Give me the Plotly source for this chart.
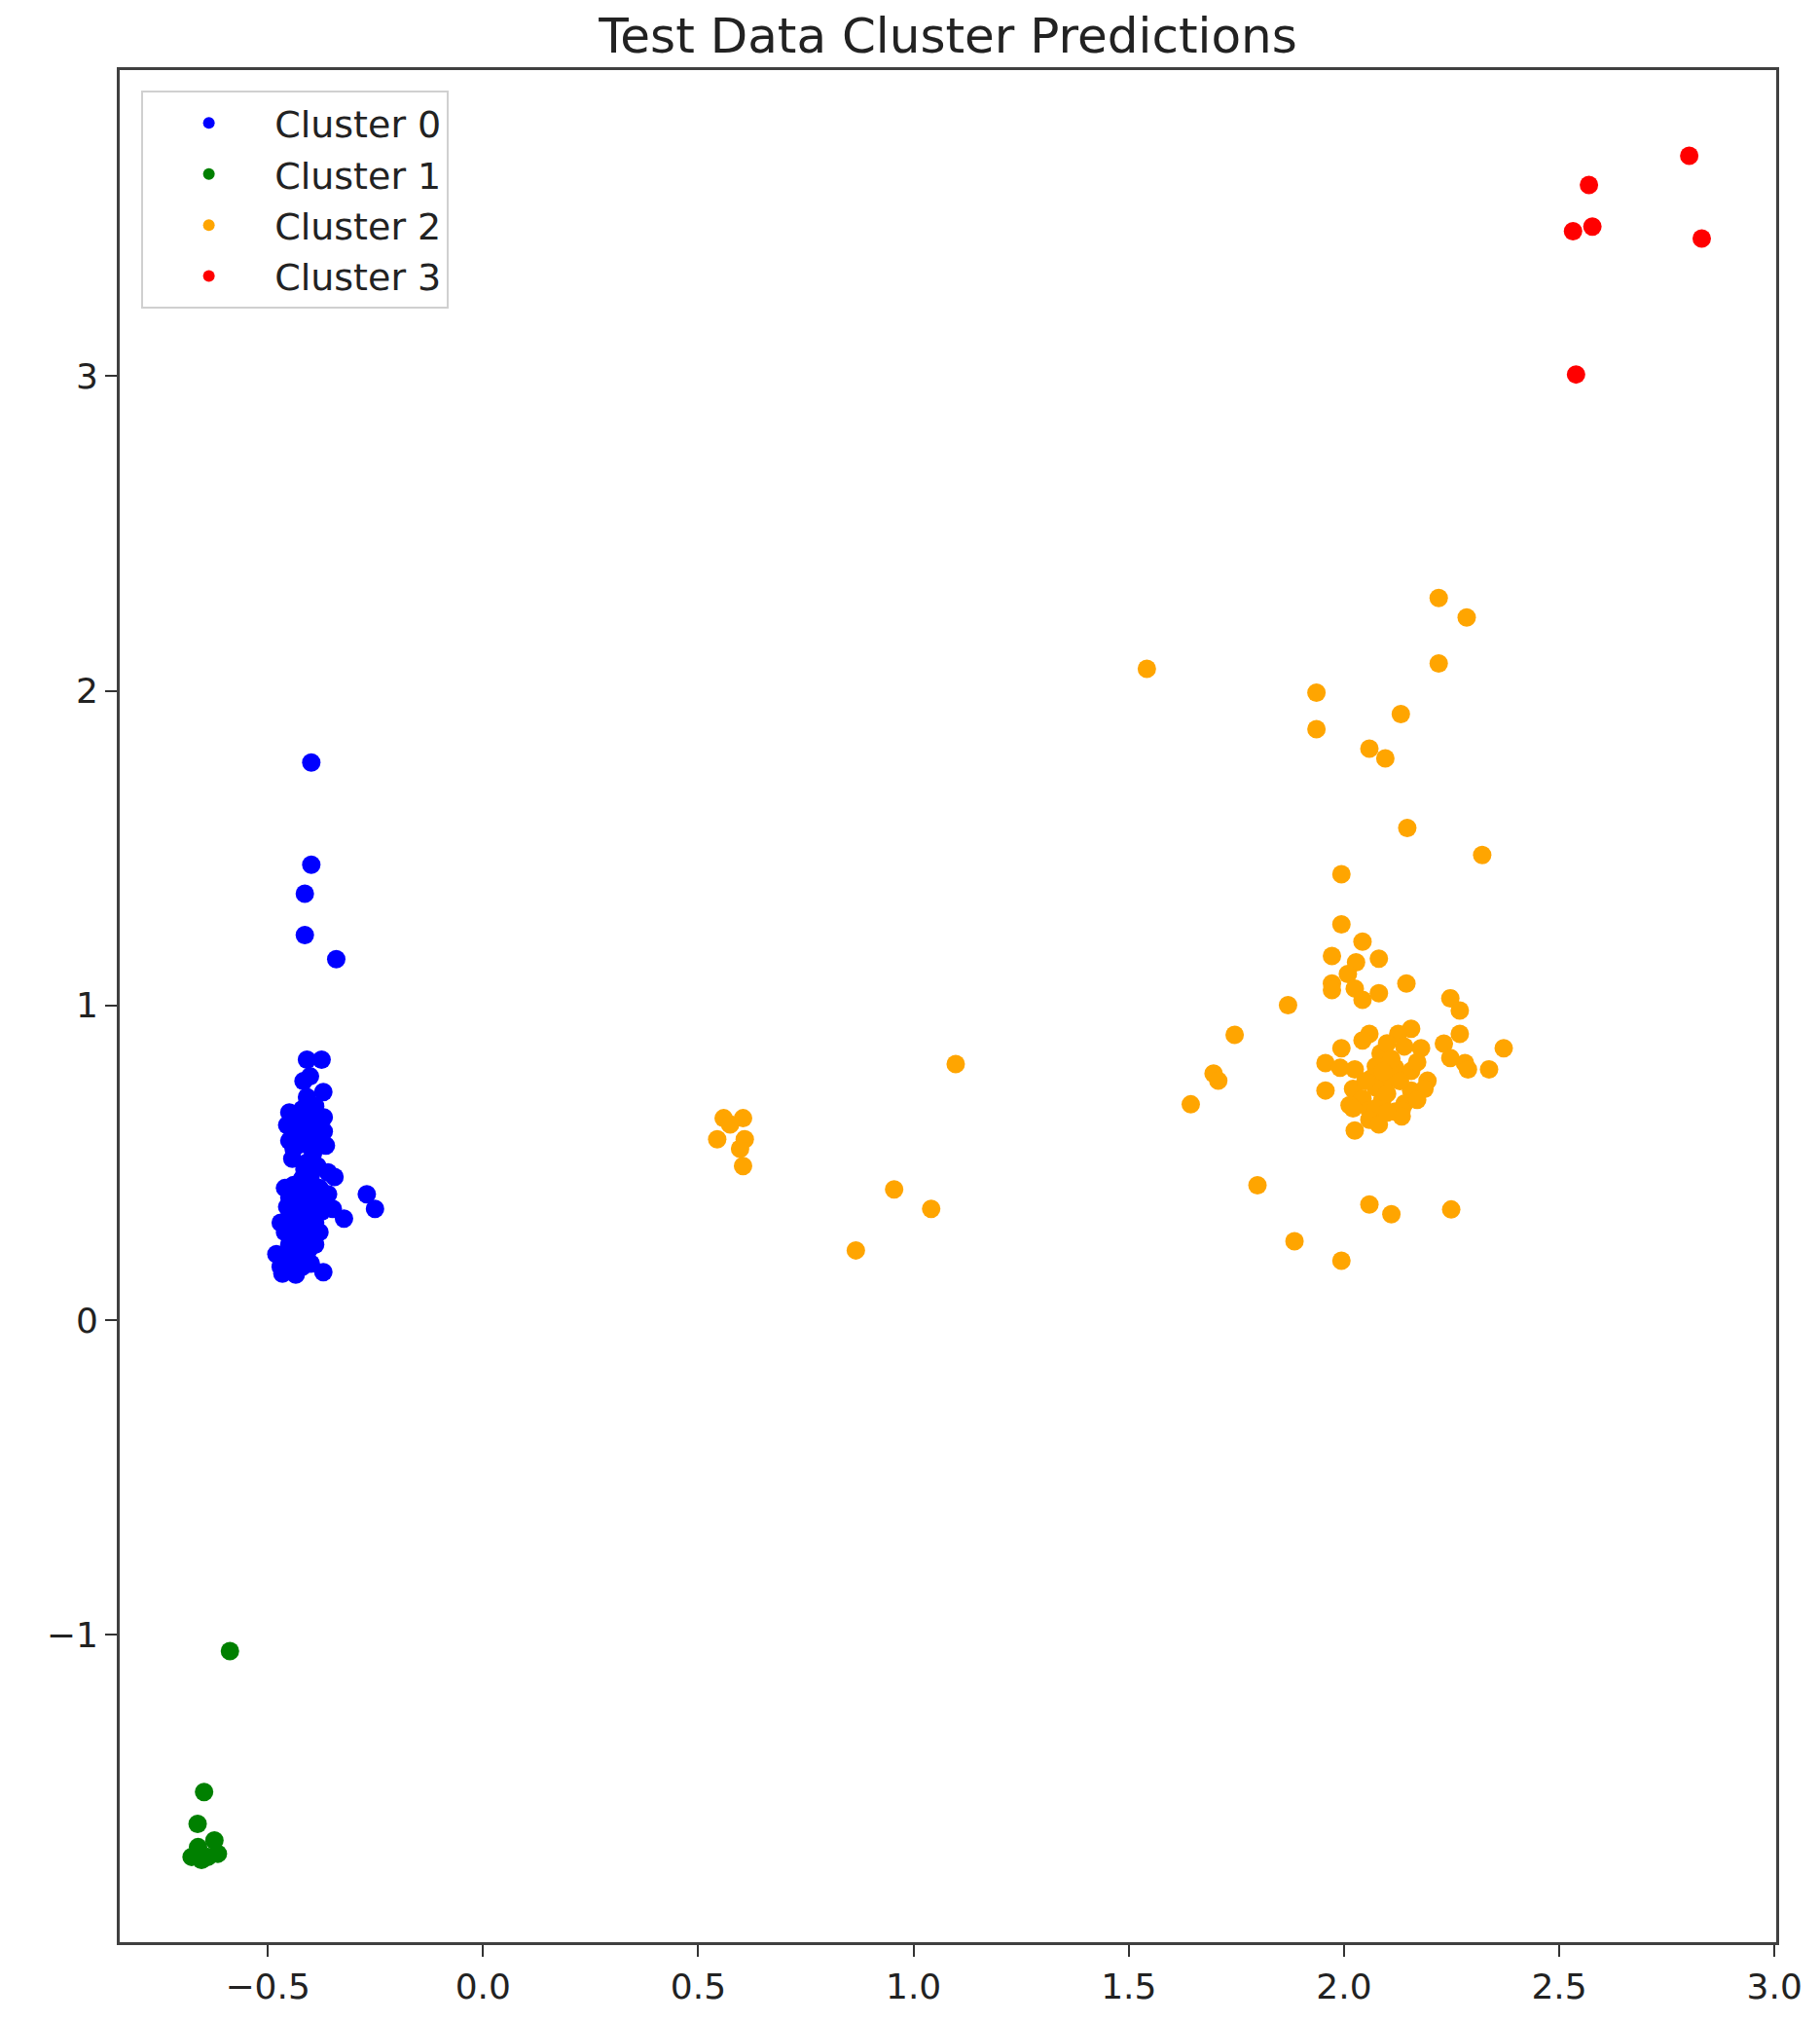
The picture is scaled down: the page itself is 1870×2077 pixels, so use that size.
import plotly.graph_objects as go

title_text = "Test Data Cluster Predictions"
cluster_names = ["Cluster 0", "Cluster 1", "Cluster 2", "Cluster 3"]
cluster_colors = ["blue", "green", "orange", "red"]

cluster0_points = [
    (-0.399, 1.772), (-0.399, 1.447), (-0.414, 1.355), (-0.414, 1.224), (-0.341, 1.147),
    (-0.409, 0.828), (-0.375, 0.828), (-0.417, 0.760), (-0.402, 0.775), (-0.371, 0.725),
    (-0.409, 0.709), (-0.450, 0.660), (-0.420, 0.670), (-0.390, 0.680), (-0.370, 0.645),
    (-0.440, 0.640), (-0.455, 0.620), (-0.430, 0.600), (-0.400, 0.610), (-0.370, 0.600),
    (-0.450, 0.570), (-0.420, 0.560), (-0.390, 0.575), (-0.365, 0.555), (-0.440, 0.545),
    (-0.443, 0.513), (-0.410, 0.500), (-0.385, 0.490), (-0.360, 0.470), (-0.345, 0.455),
    (-0.400, 0.460), (-0.420, 0.450), (-0.460, 0.420), (-0.440, 0.430), (-0.410, 0.410),
    (-0.380, 0.420), (-0.360, 0.400), (-0.450, 0.390), (-0.420, 0.380), (-0.390, 0.370),
    (-0.370, 0.380), (-0.430, 0.350), (-0.400, 0.340), (-0.455, 0.360), (-0.270, 0.400),
    (-0.251, 0.354), (-0.323, 0.323), (-0.349, 0.354), (-0.470, 0.310), (-0.440, 0.320),
    (-0.410, 0.300), (-0.390, 0.310), (-0.460, 0.280), (-0.430, 0.270), (-0.400, 0.260),
    (-0.380, 0.280), (-0.450, 0.240), (-0.420, 0.230), (-0.390, 0.240), (-0.480, 0.210),
    (-0.460, 0.200), (-0.430, 0.190), (-0.410, 0.200), (-0.470, 0.170), (-0.440, 0.160),
    (-0.420, 0.170), (-0.400, 0.180), (-0.466, 0.148), (-0.435, 0.145), (-0.371, 0.153),
    (-0.425, 0.640), (-0.405, 0.650), (-0.435, 0.585), (-0.405, 0.585), (-0.380, 0.630),
    (-0.395, 0.530), (-0.415, 0.480), (-0.435, 0.400), (-0.405, 0.390), (-0.445, 0.300),
    (-0.415, 0.330), (-0.395, 0.290), (-0.435, 0.220), (-0.405, 0.225), (-0.455, 0.185),
    (-0.375, 0.345), (-0.425, 0.420), (-0.445, 0.265),
]

cluster1_points = [
    (-0.588, -1.051), (-0.648, -1.499), (-0.663, -1.600), (-0.624, -1.653),
    (-0.662, -1.674), (-0.677, -1.705), (-0.639, -1.705), (-0.616, -1.695), (-0.654, -1.715),
]

cluster2_points = [
    (1.542, 2.070), (2.220, 2.295), (2.285, 2.233), (2.220, 2.087), (1.936, 1.994),
    (2.132, 1.926), (1.936, 1.878), (2.059, 1.816), (2.096, 1.785), (2.147, 1.564),
    (2.321, 1.478), (1.994, 1.417), (1.994, 1.258), (2.043, 1.203), (1.972, 1.157),
    (2.081, 1.149), (2.028, 1.137), (2.009, 1.100), (2.145, 1.070), (1.972, 1.070),
    (1.972, 1.049), (2.025, 1.054), (2.081, 1.039), (2.043, 1.018), (1.870, 1.001),
    (2.247, 1.023), (2.269, 0.984), (1.746, 0.907), (1.697, 0.784), (1.708, 0.761),
    (1.644, 0.686), (2.156, 0.926), (2.126, 0.910), (2.059, 0.910), (2.043, 0.889),
    (2.179, 0.864), (1.994, 0.864), (2.085, 0.848), (2.269, 0.910), (2.232, 0.879),
    (2.371, 0.864), (2.247, 0.833), (2.281, 0.817), (2.288, 0.797), (2.337, 0.797),
    (1.957, 0.817), (1.991, 0.802), (2.025, 0.797), (2.074, 0.807), (2.119, 0.802),
    (2.156, 0.792), (2.066, 0.771), (2.104, 0.766), (2.194, 0.761), (2.074, 0.740),
    (2.021, 0.735), (1.957, 0.730), (2.156, 0.730), (2.187, 0.735), (2.043, 0.704),
    (2.089, 0.699), (2.141, 0.689), (2.013, 0.683), (2.059, 0.668), (2.119, 0.663),
    (2.021, 0.673), (2.074, 0.673), (2.134, 0.668), (2.059, 0.637), (2.081, 0.622),
    (2.134, 0.648), (2.025, 0.603), (1.799, 0.429), (2.059, 0.368), (2.110, 0.337),
    (2.249, 0.352), (1.885, 0.251), (1.994, 0.189), (1.098, 0.814), (0.559, 0.642),
    (0.604, 0.642), (0.574, 0.622), (0.544, 0.575), (0.608, 0.575), (0.597, 0.545),
    (0.604, 0.490), (0.955, 0.416), (1.041, 0.354), (0.866, 0.222),
    (2.100, 0.880), (2.140, 0.870), (2.110, 0.830), (2.170, 0.820), (2.090, 0.790),
    (2.130, 0.760), (2.100, 0.720), (2.050, 0.760), (2.170, 0.700), (2.100, 0.660),
]

cluster3_points = [
    (2.802, 3.700), (2.569, 3.607), (2.577, 3.475), (2.532, 3.460), (2.831, 3.437), (2.539, 3.005),
]

x_tick_vals = [-0.5, 0.0, 0.5, 1.0, 1.5, 2.0, 2.5, 3.0]
x_tick_text = ["\u22120.5", "0.0", "0.5", "1.0", "1.5", "2.0", "2.5", "3.0"]
y_tick_vals = [-1, 0, 1, 2, 3]
y_tick_text = ["\u22121", "0", "1", "2", "3"]

all_clusters = [cluster0_points, cluster1_points, cluster2_points, cluster3_points]

fig = go.Figure()
for name, color, pts in zip(cluster_names, cluster_colors, all_clusters):
    fig.add_trace(go.Scatter(
        x=[p[0] for p in pts], y=[p[1] for p in pts],
        mode="markers", name=name,
        marker=dict(color=color, size=19, line=dict(width=0)),
    ))

font_family = "DejaVu Sans, sans-serif"
axis_common = dict(
    showgrid=False, zeroline=False, showline=True, mirror=True,
    linecolor="#404040", linewidth=3, ticks="outside", ticklen=12,
    tickwidth=2, tickcolor="#333333",
    tickfont=dict(family=font_family, size=36, color="#222222"),
)

fig.update_layout(
    width=1870, height=2077,
    margin=dict(l=115, r=53, t=64, b=90),
    paper_bgcolor="white", plot_bgcolor="white",
    title=dict(text=title_text, x=0.5, xanchor="center", xref="paper",
               y=1 - 28 / 2077, yanchor="middle", yref="container",
               font=dict(family=font_family, size=50, color="#222222")),
    xaxis=dict(range=[-0.844, 3.004], tickvals=x_tick_vals, ticktext=x_tick_text, **axis_common),
    yaxis=dict(range=[-1.976, 3.972], tickvals=y_tick_vals, ticktext=y_tick_text, **axis_common),
    legend=dict(x=0.013, y=0.989, xanchor="left", yanchor="top",
                bgcolor="white", bordercolor="#d0d0d0", borderwidth=2,
                font=dict(family=font_family, size=38, color="#222222"),
                itemsizing="constant", itemwidth=125),
    showlegend=True,
)

fig.write_html("out.html")
